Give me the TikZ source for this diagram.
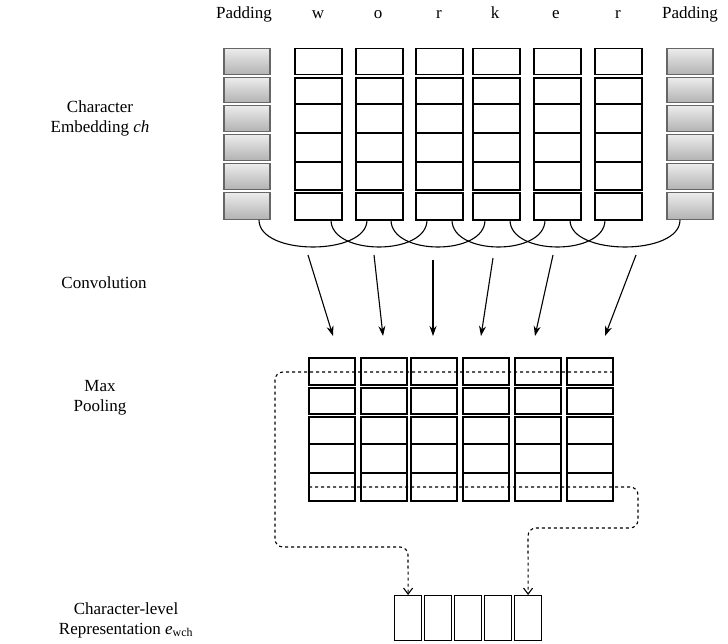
\documentclass[tikz,border=0pt]{standalone}
\usepackage{fontspec}
\setmainfont{Liberation Serif}
\usetikzlibrary{arrows.meta}
\begin{document}
\begin{tikzpicture}[x=1pt,y=-1pt,
  cell/.style={draw,line width=1.2pt,fill=white},
  pad/.style={draw=gray!80!black,line width=1.2pt,top color=gray!15,bottom color=gray!60},
  lab/.style={font=\fontsize{17}{20}\selectfont,align=center},
  conv/.style={line width=1.1pt},
  arr/.style={-{Stealth[length=10pt,width=7pt]},line width=1.1pt},
  dsharr/.style={dashed,line width=1.1pt,rounded corners=8pt,-{Straight Barb[length=6pt,width=9pt]}}]
\useasboundingbox (0,0) rectangle (728,644);
% top labels
\foreach \x/\t [count=\i] in {244/Padding,318/w,378/o,439/r,495/k,556/e,618/r,690/Padding}
  \node[lab,anchor=base] (t\i) at (\x,19) {\t};
% padding columns
\foreach \x in {224,667}{
  \foreach \a/\b in {48.5/74.5,77.5/102.5,105.5/131.5,134.5/160.5,163.5/189.5,192.5/219.5}
    \path[pad] (\x,\a) rectangle (\x+46,\b);}
% character columns
\foreach \x in {295,356,416,473,534,595}{
  \draw[cell] (\x,48.5) rectangle (\x+47,74.5);
  \draw[cell] (\x,78) rectangle (\x+47,190);
  \draw[cell] (\x,193) rectangle (\x+47,220);
  \draw[line width=2.2pt] (\x,104)--(\x+47,104) (\x,133)--(\x+47,133) (\x,162)--(\x+47,162);}
% convolution curves
\foreach \s/\e in {259/367,331/427,391/485,452/545,510/605,570/680}
  \draw[conv] (\s,220) .. controls (\s,256) and (\e,256) .. (\e,220);
% arrows
\coordinate (a1) at (308,255); \coordinate (b1) at (333,336);
\coordinate (a2) at (374,255); \coordinate (b2) at (383,336);
\coordinate (a3) at (433,260); \coordinate (b3) at (433,336);
\coordinate (a4) at (493,258); \coordinate (b4) at (481,336);
\coordinate (a5) at (553,255); \coordinate (b5) at (535,336);
\coordinate (a6) at (636,255); \coordinate (b6) at (605,336);
\foreach \i in {1,...,6} \draw[arr] (a\i)--(b\i);
% max pooling block
\foreach \x in {309,361,411,463,515,567}{
  \draw[cell] (\x,358) rectangle (\x+46,385);
  \draw[cell] (\x,388) rectangle (\x+46,414);
  \draw[cell] (\x,417) rectangle (\x+46,501);
  \draw[line width=2.2pt] (\x,444)--(\x+46,444) (\x,473)--(\x+46,473);}
% output
\foreach \x [count=\i] in {394,424,454,484,514}
  \node[draw,line width=1.2pt,minimum width=27pt,minimum height=45pt,inner sep=0pt,anchor=north west] (o\i) at (\x,595) {};
% dashed paths
\coordinate (d1) at (613,372); \coordinate (d2) at (309,487);
\draw[dsharr] (d1) -- (275,372) -- (275,547) -- (408,547) -- (o1.north);
\draw[dsharr] (d2) -- (638,487) -- (638,528) -- (528,528) -- (o5.north);
% left labels
\node[lab] (l1) at (100,118) {Character\\Embedding \textit{ch}};
\node[lab] (l2) at (104,283) {Convolution};
\node[lab] (l3) at (100,398) {Max\\Pooling};
\node[lab] (l4) at (126,620) {Character-level\\Representation \textit{e}\textsubscript{wch}};
\end{tikzpicture}
\end{document}
